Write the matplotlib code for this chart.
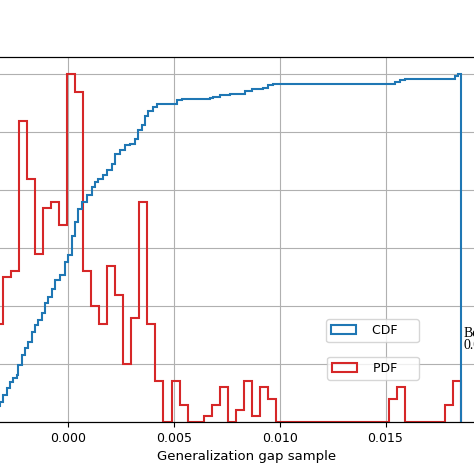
import numpy as np
import matplotlib
matplotlib.use('Agg')
import matplotlib.pyplot as plt

# PDF: histogram counts, equal-width bins between pdf_lo and pdf_hi
pdf_lo, pdf_hi = -0.003494, 0.01857
pdf_counts = [17, 25, 26, 52, 42, 29, 37, 38, 34, 60, 57, 26, 20, 17, 27, 22,
              10, 18, 38, 17, 7, 0, 7, 3, 0, 0, 1, 3, 6, 0, 2, 7, 1, 6, 4,
              0, 0, 0, 0, 0, 0, 0, 0, 0, 0, 0, 0, 0, 0,
              4, 6, 0, 0, 0, 0, 0, 3, 7]

# CDF: step edges (x1e-3) and level of each step
cdf_edges = [-5.133, -4.424, -3.809, -3.241, -3.085, -2.924, -2.768, -2.612,
             -2.451, -2.375, -2.214, -2.058, -1.902, -1.741, -1.585, -1.429,
             -1.268, -1.112, -0.956, -0.795, -0.639, -0.402, -0.166, -0.009,
             0.151, 0.308, 0.464, 0.625, 0.861, 1.098, 1.254, 1.410, 1.646,
             1.807, 2.044, 2.200, 2.437, 2.673, 2.910, 3.146, 3.302, 3.463,
             3.619, 3.776, 4.012, 4.173, 4.958, 5.119, 5.356, 6.695, 6.851,
             7.168, 7.641, 8.351, 8.668, 9.217, 9.453, 9.690, 15.448, 15.684,
             15.921, 18.050, 18.286, 18.442, 18.570]
cdf_values = [0.017, 0.032, 0.046, 0.058, 0.078, 0.098, 0.116, 0.126, 0.135,
              0.164, 0.193, 0.212, 0.231, 0.259, 0.279, 0.293, 0.313, 0.342,
              0.360, 0.384, 0.408, 0.422, 0.461, 0.480, 0.534, 0.575, 0.614,
              0.633, 0.652, 0.676, 0.691, 0.700, 0.710, 0.724, 0.743, 0.772,
              0.782, 0.796, 0.801, 0.815, 0.839, 0.853, 0.879, 0.894, 0.907,
              0.914, 0.916, 0.925, 0.930, 0.932, 0.935, 0.941, 0.945, 0.952,
              0.959, 0.961, 0.970, 0.973, 0.978, 0.983, 0.986, 0.988, 0.994,
              1.000]

bound = 0.01857

plt.rcParams['font.size'] = 9

fig = plt.figure(figsize=(4.74, 4.74), dpi=100)
# the view is a crop: the axes runs past both sides of the canvas
ax = fig.add_axes([-100 / 474, 52 / 474, 694 / 474, 365 / 474])
ax2 = ax.twinx()

pdf_edges = np.linspace(pdf_lo, pdf_hi, len(pdf_counts) + 1)
ax.hist(pdf_edges[:-1], bins=pdf_edges, weights=pdf_counts,
        histtype='step', color='tab:red', lw=1.5, label='PDF')

edges = np.array(cdf_edges) * 1e-3
ax2.hist(edges[:-1], bins=edges, weights=cdf_values,
         histtype='step', color='tab:blue', lw=1.5, label='CDF')

ax.set_xlim(-0.007972, 0.024863)
ax.grid(True)
ax.set_xlabel('Generalization gap sample', fontsize=9.5)
ax.tick_params(axis='y', labelleft=False)
ax2.tick_params(axis='y', labelright=False)

ax.text(bound + 0.00014, 14.2, 'Bound\n0.0186', family='Liberation Serif',
        fontsize=10, va='center', ha='left', linespacing=0.95)

ax2.legend(loc='upper left', bbox_to_anchor=(326 / 474, 1 - 319 / 474),
           bbox_transform=fig.transFigure, borderaxespad=0,
           handletextpad=1.3, labels=['CDF    '])
ax.legend(loc='upper left', bbox_to_anchor=(327 / 474, 1 - 356.5 / 474),
          bbox_transform=fig.transFigure, borderaxespad=0,
          handletextpad=1.3, labels=['PDF    '])

fig.savefig('out.png', dpi=100)
